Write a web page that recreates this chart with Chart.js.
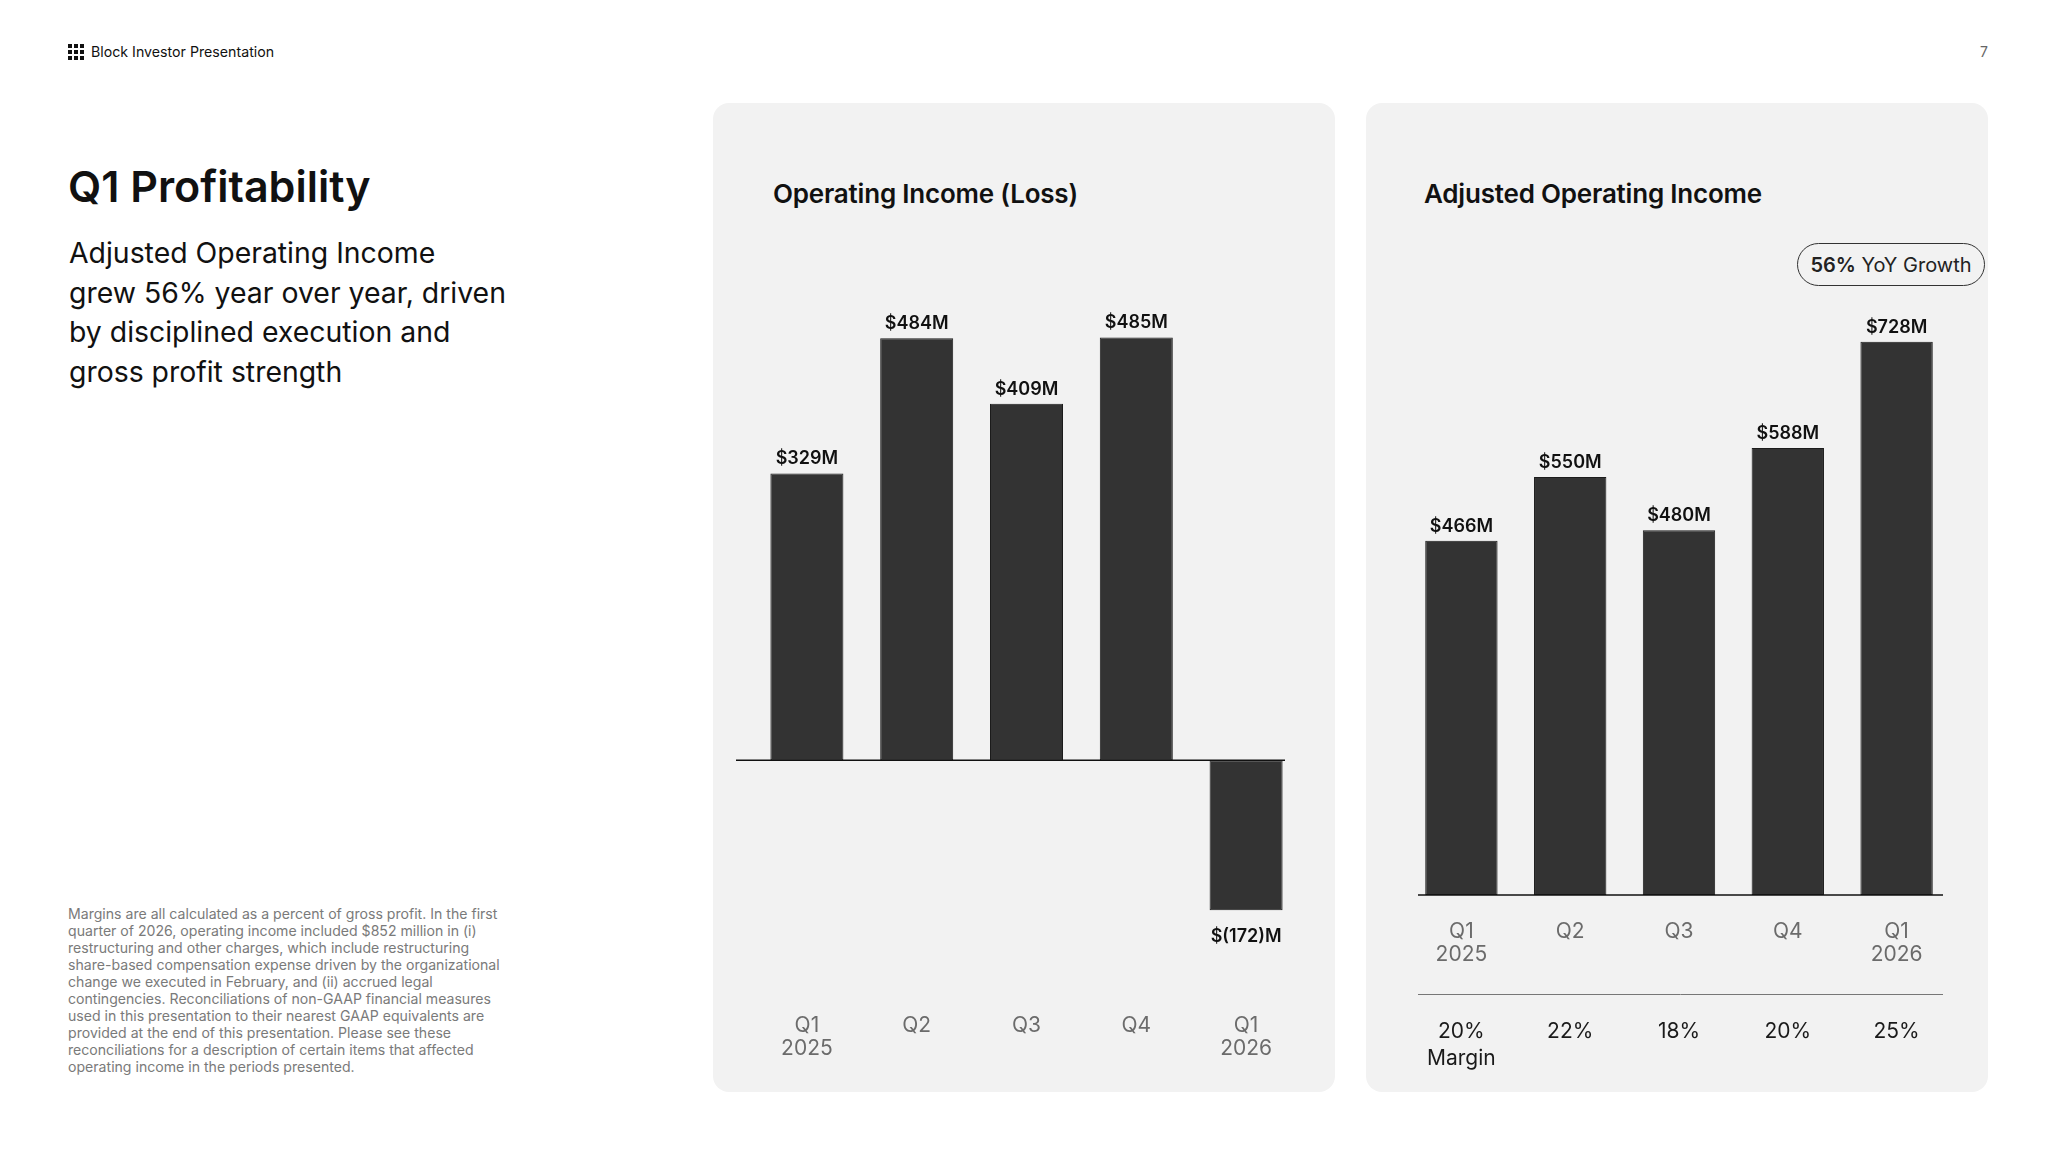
<!DOCTYPE html>
<html>
<head>
<meta charset="utf-8">
<script src="https://cdn.jsdelivr.net/npm/chart.js@4/dist/chart.umd.min.js"></script>
<style>
  html, body { margin: 0; padding: 0; }
  body { width: 2048px; height: 1152px; position: relative; background: #fff; font-family: Inter, "Noto Sans", sans-serif; color: #111; overflow: hidden; }
  .abs { position: absolute; }
  .panel { position: absolute; background: #f2f2f2; border-radius: 16px; }
  .logo { left: 68px; top: 44px; width: 16px; height: 16px; display: grid; grid-template-columns: repeat(3, 4px); grid-gap: 2px; }
  .logo span { width: 4px; height: 4px; background: #111; }
  .chart-title { font-size: 26px; font-weight: 600; letter-spacing: -0.2px; }
</style>
</head>
<body>
<div class="abs logo"><span></span><span></span><span></span><span></span><span></span><span></span><span></span><span></span><span></span></div>
<div class="abs" style="left:91px;top:43px;font-size:14.2px;">Block Investor Presentation</div>
<div class="abs" style="left:1980px;top:43px;font-size:14px;color:#666;">7</div>

<div class="abs" style="left:68px;top:160px;font-size:43px;font-weight:600;letter-spacing:0px;">Q1 Profitability</div>
<div class="abs" style="left:69px;top:233px;font-size:28.4px;line-height:39.5px;">Adjusted Operating Income<br>grew 56% year over year, driven<br>by disciplined execution and<br>gross profit strength</div>
<div class="abs" style="left:68px;top:905px;font-size:14.1px;line-height:17px;color:#7a7a7a;">Margins are all calculated as a percent of gross profit. In the first<br>quarter of 2026, operating income included $852 million in (i)<br>restructuring and other charges, which include restructuring<br>share-based compensation expense driven by the organizational<br>change we executed in February, and (ii) accrued legal<br>contingencies. Reconciliations of non-GAAP financial measures<br>used in this presentation to their nearest GAAP equivalents are<br>provided at the end of this presentation. Please see these<br>reconciliations for a description of certain items that affected<br>operating income in the periods presented.</div>

<div class="panel" style="left:713px;top:103px;width:622px;height:989px;"></div>
<div class="panel" style="left:1366px;top:103px;width:622px;height:989px;"></div>
<div class="abs chart-title" style="left:773px;top:178px;">Operating Income (Loss)</div>
<div class="abs chart-title" style="left:1424px;top:178px;">Adjusted Operating Income</div>
<div class="abs" style="left:1797px;top:243px;width:188px;height:43px;border:1.3px solid #333;border-radius:22px;box-sizing:border-box;display:flex;align-items:center;justify-content:center;font-size:20px;color:#222;"><b style="font-weight:600;">56%</b>&nbsp;YoY Growth</div>

<canvas id="opChart" class="abs" style="left:713px;top:103px;" width="622" height="989"></canvas>
<canvas id="adjChart" class="abs" style="left:1366px;top:103px;" width="622" height="989"></canvas>

<script>
const quarters = [['Q1', '2025'], 'Q2', 'Q3', 'Q4', ['Q1', '2026']];
const operatingIncome = [329, 484, 409, 485, -172];
const adjustedOperatingIncome = [466, 550, 480, 588, 728];
const marginTicks = [['20%', 'Margin'], '22%', '18%', '20%', '25%'];

const fmt = (v) => v >= 0 ? '$' + v + 'M' : '$(' + (-v) + ')M';

// value labels above / below each bar, plus the zero line
const barExtras = {
  id: 'barExtras',
  afterDatasetsDraw(chart, args, opts) {
    const ctx = chart.ctx;
    const area = chart.chartArea;
    const y0 = chart.scales.y.getPixelForValue(0);
    ctx.save();
    ctx.strokeStyle = '#111';
    ctx.lineWidth = 1.5;
    ctx.beginPath();
    ctx.moveTo(area.left + opts.lineFrom, y0);
    ctx.lineTo(area.right + opts.lineTo, y0);
    ctx.stroke();
    if (opts.separator && chart.scales.x2) {
      const ys = Math.round(chart.scales.x2.top) + 0.5;
      ctx.strokeStyle = '#777';
      ctx.lineWidth = 1;
      ctx.beginPath();
      ctx.moveTo(area.left + opts.lineFrom, ys);
      ctx.lineTo(area.right + opts.lineTo, ys);
      ctx.stroke();
    }
    ctx.fillStyle = '#111';
    ctx.font = '600 18px Inter';
    ctx.textAlign = 'center';
    ctx.textBaseline = 'middle';
    const data = chart.data.datasets[0].data;
    chart.getDatasetMeta(0).data.forEach((bar, i) => {
      const v = data[i];
      const y = v >= 0 ? bar.y - 14.5 : bar.y + 26;
      ctx.fillText(fmt(v), bar.x, y);
    });
    ctx.restore();
  }
};

const barStyle = {
  backgroundColor: '#333333',
  borderColor: '#1c1c1c',
  borderWidth: 1,
  borderSkipped: false,
  barPercentage: 0.665,
  categoryPercentage: 1
};

const tickFont = { family: 'Inter', size: 21, lineHeight: 1.1 };

new Chart(document.getElementById('opChart'), {
  type: 'bar',
  data: {
    labels: quarters,
    datasets: [Object.assign({ data: operatingIncome }, barStyle)]
  },
  options: {
    responsive: false,
    devicePixelRatio: 1,
    animation: false,
    layout: { padding: { left: 39, right: 34, top: 169, bottom: 32.5 } },
    plugins: { legend: { display: false }, tooltip: { enabled: false }, barExtras: { lineFrom: -16, lineTo: -16 } },
    scales: {
      x: {
        grid: { display: false, drawTicks: false },
        border: { display: false },
        ticks: { color: '#6b6b6b', font: tickFont, padding: 25, maxRotation: 0, autoSkip: false },
        afterFit: (s) => { s.height = 70; }
      },
      y: { display: false, min: -263, max: 560 }
    }
  },
  plugins: [barExtras]
});

new Chart(document.getElementById('adjChart'), {
  type: 'bar',
  data: {
    labels: quarters,
    datasets: [Object.assign({ data: adjustedOperatingIncome, xAxisID: 'x' }, barStyle)]
  },
  options: {
    responsive: false,
    devicePixelRatio: 1,
    animation: false,
    layout: { padding: { left: 41, right: 37, top: 184, bottom: 18 } },
    plugins: { legend: { display: false }, tooltip: { enabled: false }, barExtras: { lineFrom: 11, lineTo: -8, separator: true } },
    scales: {
      x: {
        grid: { display: false, drawTicks: false },
        border: { display: false },
        ticks: { color: '#6b6b6b', font: tickFont, padding: 25, maxRotation: 0, autoSkip: false },
        afterFit: (s) => { s.height = 99; }
      },
      x2: {
        type: 'category',
        position: 'bottom',
        labels: marginTicks,
        grid: { display: false, drawTicks: false },
        border: { display: false },
        ticks: { color: '#1a1a1a', font: { family: 'Inter', size: 21, lineHeight: 1.3 }, padding: 24, maxRotation: 0, autoSkip: false },
        afterFit: (s) => { s.height = 80; }
      },
      y: { display: false, min: 0, max: 800 }
    }
  },
  plugins: [barExtras]
});
</script>
</body>
</html>
